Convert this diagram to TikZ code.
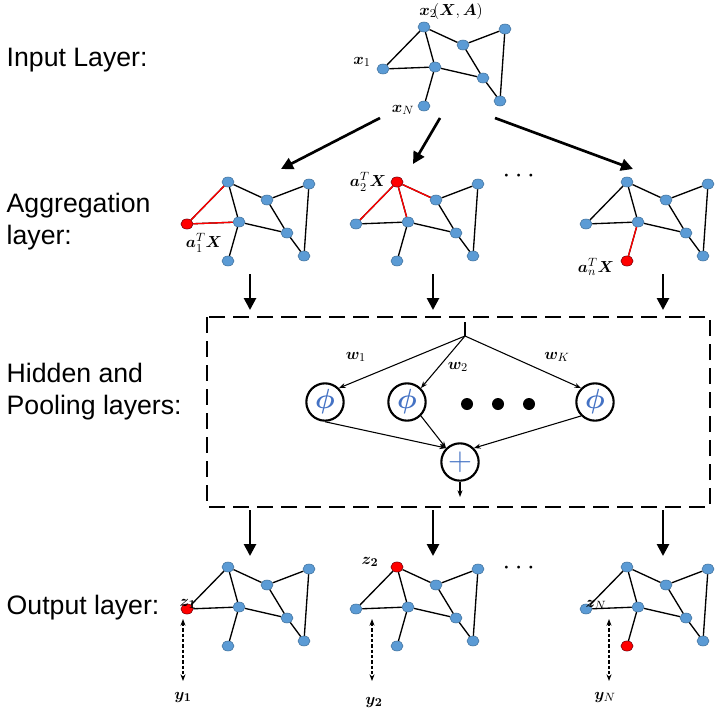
\documentclass[tikz,border=0pt]{standalone}
\usepackage{fontspec}
\setmainfont{Liberation Sans}
\usepackage{amsmath,bm}
\usetikzlibrary{shapes.geometric,arrows.meta}
\definecolor{nb}{RGB}{91,155,213}
\definecolor{nbd}{RGB}{65,113,156}
\definecolor{phic}{RGB}{68,114,196}
\tikzset{
 gn/.style={ellipse,draw=nbd,line width=0.4pt,fill=nb,minimum width=9pt,minimum height=7.5pt,inner sep=0},
 rn/.style={gn,fill=red,draw=red!60!black},
 ge/.style={line width=1pt},
 re/.style={line width=1pt,red},
 lab/.style={font=\fontsize{20}{24}\selectfont,align=left,anchor=west},
 ml/.style={font=\fontsize{13}{15}\selectfont},
 big/.style={line width=2pt,-{Triangle[length=9pt,width=9pt]}},
 circ/.style={circle,draw,line width=1.6pt,minimum size=28pt,inner sep=0,text=phic},
 thin/.style={line width=0.8pt,-{Stealth[length=5pt]}}
}
\newcommand\mygraph[2]{%
 \begin{scope}[shift={(#2)}]
 \node[gn] (#1x2) at (0,0) {};
 \node[gn] (#1x1) at (-41,42) {};
 \node[gn] (#1c) at (11,40) {};
 \node[gn] (#1m) at (39,18) {};
 \node[gn] (#1t) at (81,2) {};
 \node[gn] (#1r) at (59,51) {};
 \node[gn] (#1b) at (76,74) {};
 \node[gn] (#1n) at (0,79) {};
 \end{scope}
 \draw[ge] (#1x1)--(#1x2) (#1x1)--(#1c) (#1x2)--(#1c) (#1x2)--(#1m) (#1m)--(#1r)
   (#1c)--(#1r) (#1r)--(#1b) (#1t)--(#1b) (#1m)--(#1t) (#1c)--(#1n);
}
\begin{document}
\begin{tikzpicture}[x=0.75pt,y=-0.75pt]
\useasboundingbox (0,0) rectangle (720,728);
% left labels
\node[lab] (l1) at (2,60) {Input Layer:};
\node[lab] (l2) at (2,222) {Aggregation\\layer:};
\node[lab] (l3) at (2,392) {Hidden and\\Pooling layers:};
\node[lab] (l4) at (2,608) {Output layer:};
% graphs
\mygraph{g}{424,27}
\mygraph{a}{228,182}
\mygraph{b}{397,182}
\mygraph{c}{627,182}
\mygraph{o}{228,567}
\mygraph{p}{397,567}
\mygraph{q}{627,567}
% red highlights
\draw[re] (ax1)--(ax2) (ax1)--(ac);
\node[rn] (ar) at (ax1) {};
\draw[re] (bx2)--(bx1) (bx2)--(bc) (bx2)--(bm);
\node[rn] (br) at (bx2) {};
\draw[re] (cc)--(cn);
\node[rn] (cr) at (cn) {};
\node[rn] (or) at (ox1) {};
\node[rn] (pr) at (px2) {};
\node[rn] (qr) at (qn) {};
% math labels
\node[ml] (XA) at (458,12) {$(\bm{X},\bm{A})$};
\node[ml] (lx2) at (428,13) {$\bm{x}_2$};
\node[ml] (lx1) at (362,62) {$\bm{x}_1$};
\node[ml] (lxn) at (403,110) {$\bm{x}_N$};
\node[ml] (la1) at (204,243) {$\bm{a}_1^T\bm{X}$};
\node[ml] (la2) at (368,182) {$\bm{a}_2^T\bm{X}$};
\node[ml] (lan) at (596,267) {$\bm{a}_n^T\bm{X}$};
\node (d1) at (521,176) {\fontsize{22}{22}\selectfont $\cdots$};
\node (d2) at (521,568) {\fontsize{22}{22}\selectfont $\cdots$};
% top arrows
\coordinate (s1) at (380,118); \coordinate (e1) at (281,169);
\coordinate (s2) at (440,118); \coordinate (e2) at (413,164);
\coordinate (s3) at (495,118); \coordinate (e3) at (633,169);
\draw[big] (s1)--(e1); \draw[big] (s2)--(e2); \draw[big] (s3)--(e3);
% aggregation down arrows
\foreach \i/\x in {1/250,2/433,3/663}{
 \coordinate (da\i) at (\x,274); \coordinate (db\i) at (\x,310);
 \draw[big] (da\i)--(db\i);
 \coordinate (ua\i) at (\x,510); \coordinate (ub\i) at (\x,556);
 \draw[big] (ua\i)--(ub\i);
}
% dashed box
\draw[line width=1.8pt,dash pattern=on 12pt off 6pt] (207,317) rectangle (710,507);
% hidden
\coordinate (h0) at (465,322); \coordinate (hs) at (465,336);
\draw[line width=0.8pt] (h0)--(hs);
\node[circ] (p1) at (325,402) {\fontsize{20}{20}\selectfont$\bm{\phi}$};
\node[circ] (p2) at (407,402) {\fontsize{20}{20}\selectfont$\bm{\phi}$};
\node[circ] (p3) at (595,402) {\fontsize{20}{20}\selectfont$\bm{\phi}$};
\node[circ] (pl) at (460,462) {\fontsize{24}{24}\selectfont$+$};
\draw[thin] (hs)--(p1.north east);
\draw[thin] (hs)--(p2.north east);
\draw[thin] (hs)--(p3.north west);
\draw[thin] (p1.south)--(pl.north west);
\draw[thin] (p2.south east)--(pl.north west);
\draw[thin] (p3.south west)--(pl.north east);
\coordinate (pe) at (460,497);
\draw[thin] (pl)--(pe);
\foreach \x [count=\k] in {467,498,529}{\node[circle,fill,inner sep=0,minimum size=9pt] (dot\k) at (\x,404) {};}
\node[ml] (w1) at (356,357) {$\bm{w}_1$};
\node[ml] (w2) at (458,367) {$\bm{w}_2$};
\node[ml] (wk) at (557,357) {$\bm{w}_K$};
% output labels
\node[ml] (z1) at (188,604) {$\bm{z_1}$};
\node[ml] (z2) at (370,562) {$\bm{z_2}$};
\node[ml] (zn) at (596,605) {$\bm{z}_N$};
\node[ml] (y1) at (183,697) {$\bm{y_1}$};
\node[ml] (y2) at (374,702) {$\bm{y_2}$};
\node[ml] (yn) at (605,697) {$\bm{y}_N$};
\foreach \n/\x in {1/183,2/372,3/609}{
 \coordinate (ya\n) at (\x,619); \coordinate (yb\n) at (\x,681);
 \draw[line width=0.8pt,dash pattern=on 2.5pt off 1.5pt,{Stealth[length=5pt]}-{Stealth[length=5pt]}] (ya\n)--(yb\n);
}
\end{tikzpicture}
\end{document}
